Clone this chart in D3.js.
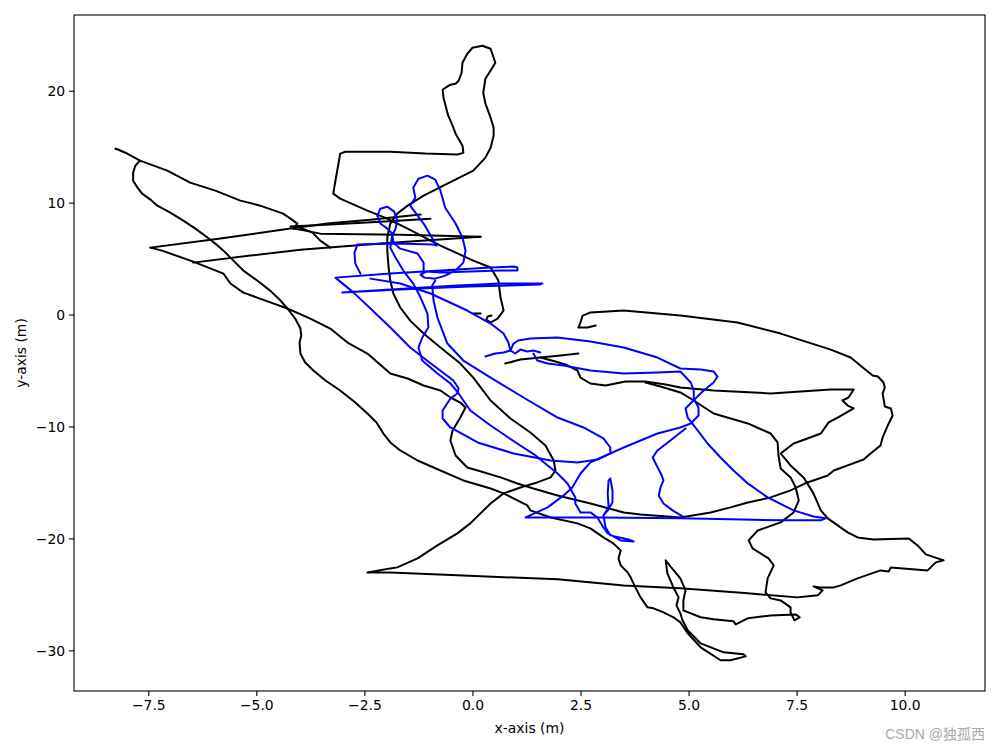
<!DOCTYPE html>
<html>
<head>
<meta charset="utf-8">
<script src="https://cdn.jsdelivr.net/npm/d3@7"></script>
<style>
  html, body { margin: 0; padding: 0; background: #fff; }
  svg { display: block; }
</style>
</head>
<body>
<svg id="chart" width="1000" height="750"></svg>
<script>
// ---------- data (metres) ----------
// ground-truth trajectory (black), split into strokes
const gtLoopTrack = [[1.57,-3.84],[1.92,-4.20],[2.15,-4.46],[2.43,-5.00],[2.50,-5.63],[2.73,-6.16],[3.08,-6.34],[3.54,-5.98],[4.00,-5.98],[4.47,-6.25],[4.81,-6.52],[5.58,-6.79],[6.90,-7.05],[7.59,-6.88],[8.29,-6.70],[8.82,-6.70],[8.70,-7.41],[8.56,-7.68],[8.68,-8.13],[8.82,-8.39],[8.45,-9.20],[8.24,-9.64],[8.06,-10.63],[7.75,-11.07],[7.43,-11.52],[7.13,-12.41],[7.36,-13.48],[7.66,-14.55],[7.89,-15.98],[8.06,-17.50],[8.22,-18.21],[8.45,-18.84],[8.68,-19.46],[8.91,-19.91],[9.28,-20.09],[10.09,-20.00],[10.30,-20.63],[10.49,-21.43],[10.90,-21.96],[10.72,-22.14],[10.53,-22.86],[9.68,-22.59],[9.63,-22.95],[9.44,-22.86],[8.91,-23.57],[8.52,-24.20],[8.36,-24.38],[8.06,-24.38],[7.89,-24.29],[8.10,-24.64],[7.99,-25.09],[7.52,-25.27],[6.37,-24.91],[4.81,-24.46],[3.50,-24.20],[1.97,-23.66],[-0.35,-23.30],[-1.90,-23.04],[-2.43,-23.04],[-1.90,-22.68],[-1.74,-22.59],[-1.27,-21.79],[-0.81,-20.63],[-0.35,-19.55],[-0.05,-18.66],[0.42,-16.88],[0.72,-15.98],[1.18,-15.36],[1.50,-15.00],[1.81,-14.55],[1.92,-13.93],[1.88,-13.04],[1.69,-11.70],[1.34,-10.54],[0.88,-9.29],[0.42,-7.68],[0.02,-5.63],[-0.28,-4.38],[-0.74,-2.95],[-1.13,-1.70],[-1.44,-0.54],[-1.67,0.63],[-1.83,1.88],[-1.90,3.04],[-1.94,4.20],[-1.97,5.71],[-1.97,6.88],[-1.90,8.13],[-1.74,9.02],[-1.50,9.73],[-1.13,10.63],[-0.58,11.70],[0.02,12.86],[0.30,14.02],[0.42,14.91],[0.49,15.98],[0.49,16.70],[0.42,17.59],[0.30,18.84],[0.25,19.82],[0.30,21.07],[0.46,22.05],[0.53,22.50],[0.42,23.75],[0.23,24.02],[0.00,23.84],[-0.12,23.30],[-0.23,22.50],[-0.25,21.61],[-0.32,20.89],[-0.39,20.63],[-0.51,20.54],[-0.62,20.27],[-0.69,20.09],[-0.67,19.38],[-0.56,17.77],[-0.46,16.88],[-0.39,16.16],[-0.23,15.09],[-0.21,14.46],[-0.35,14.29],[-1.09,14.38],[-1.90,14.55],[-2.94,14.55],[-3.06,14.38],[-3.10,13.48],[-3.17,11.96],[-3.22,10.80],[-3.06,10.36],[-2.43,9.29],[-1.97,8.57],[-1.50,7.68],[-0.74,6.16],[0.02,4.82],[0.42,4.20],[0.60,3.04],[0.65,1.52],[0.72,0.36],[0.58,-0.36],[0.42,-0.71],[0.32,-0.45],[0.35,-0.18],[0.44,-0.09]];
const gtShortTrack = [[0.76,-4.38],[1.11,-4.02],[1.57,-3.84],[2.04,-3.66],[2.45,-3.48]];
const gtOuterTrack = [[-7.45,5.98],[-7.18,5.71],[-6.46,4.73],[-5.76,3.66],[-5.60,2.77],[-5.30,1.96],[-4.79,1.25],[-4.28,0.54],[-3.75,-0.36],[-3.29,-1.25],[-2.89,-2.50],[-2.43,-3.48],[-1.90,-5.27],[-1.50,-5.71],[-1.13,-6.34],[-0.74,-6.79],[-0.51,-7.41],[-0.28,-7.86],[-0.16,-8.30],[-0.28,-9.20],[-0.46,-10.36],[-0.51,-11.25],[-0.39,-12.59],[-0.12,-13.66],[0.12,-13.93],[0.65,-14.55],[1.04,-15.09],[1.41,-15.54],[1.97,-16.16],[2.73,-16.88],[3.50,-17.68],[3.89,-17.86],[4.81,-18.13],[5.51,-17.68],[5.97,-17.23],[6.37,-16.79],[6.90,-16.34],[7.36,-15.71],[7.75,-15.00],[8.22,-14.38],[8.36,-13.93],[8.68,-13.48],[9.05,-12.95],[9.21,-12.41],[9.44,-11.70],[9.49,-10.98],[9.61,-9.91],[9.72,-9.02],[9.68,-8.39],[9.54,-8.21],[9.49,-7.05],[9.54,-6.52],[9.51,-6.07],[9.38,-5.54],[9.26,-5.45],[9.03,-4.73],[8.75,-3.84],[8.29,-3.13],[7.13,-1.70],[6.13,-0.71],[4.81,-0.09],[3.50,0.36],[2.73,0.18],[2.55,-0.09],[2.50,-0.71],[2.45,-1.16],[2.66,-1.16],[2.85,-0.98]];
const gtLeftTrack = [[-8.26,14.82],[-8.20,14.75],[-8.03,14.46],[-7.69,13.75],[-7.06,12.86],[-6.53,11.79],[-5.95,11.07],[-5.37,10.18],[-4.91,9.73],[-4.38,9.02],[-4.21,8.57],[-4.05,8.13],[-4.14,7.68]];
const gtJump1 = [[-7.45,5.98],[-5.83,6.79],[-4.21,7.68],[-3.36,8.13],[-2.36,8.48],[-1.20,8.93]];
const gtJump2 = [[-4.21,7.86],[-3.29,8.04],[-2.13,8.30],[-0.97,8.57]];
const gtJump3 = [[-4.14,7.68],[-3.87,7.50],[-3.52,7.23],[-1.67,7.14],[0.19,6.96]];
const gtJump4 = [[-6.46,4.64],[-5.14,5.27],[-3.98,5.80],[-2.13,6.34],[0.19,6.96]];
const gtJump5 = [[-4.05,7.86],[-3.70,7.32],[-3.52,6.61],[-3.29,5.98]];
const gtLowerTrack = [[-7.69,13.75],[-7.80,13.30],[-7.85,12.68],[-7.85,11.96],[-7.75,11.34],[-7.64,10.80],[-7.45,10.27],[-7.29,9.73],[-6.99,9.11],[-6.69,8.39],[-6.41,7.68],[-6.13,6.88],[-5.95,6.34],[-5.76,5.71],[-5.53,4.82],[-5.30,3.93],[-4.98,3.04],[-4.68,2.14],[-4.44,1.25],[-4.28,0.54],[-4.10,-0.36],[-3.98,-1.25],[-3.96,-1.88],[-4.00,-2.50],[-3.98,-3.48],[-3.87,-4.29],[-3.68,-5.00],[-3.40,-5.89],[-3.06,-6.79],[-2.71,-7.86],[-2.43,-8.84],[-2.22,-9.64],[-2.06,-10.63],[-1.90,-11.43],[-1.67,-12.14],[-1.27,-13.04],[-0.74,-13.93],[-0.21,-14.82],[0.42,-15.54],[0.72,-15.98],[1.04,-16.61],[1.27,-17.05],[1.34,-17.50],[1.81,-18.13],[2.43,-18.66],[2.73,-19.11],[3.03,-19.91],[3.26,-20.45],[3.43,-21.07],[3.38,-21.79],[3.43,-22.41],[3.59,-23.04],[3.66,-23.48],[3.77,-24.38],[3.89,-25.27],[4.05,-26.16],[4.19,-26.25],[4.42,-26.61],[4.65,-27.05],[4.81,-27.50],[4.98,-28.48],[5.28,-29.73],[5.74,-30.89],[5.97,-30.89],[6.32,-30.54],[6.27,-30.36],[5.81,-30.18],[5.28,-29.38],[4.98,-28.21],[4.86,-27.32],[4.81,-26.70],[4.72,-25.98],[4.77,-25.27],[4.65,-24.38],[4.51,-23.13],[4.47,-21.96],[4.58,-22.50],[4.81,-23.57],[4.93,-24.64],[4.88,-25.54],[4.88,-26.43],[5.28,-27.05],[5.58,-27.23],[6.04,-27.41],[6.09,-27.68],[6.37,-27.14],[6.90,-26.88],[7.48,-26.79],[7.57,-27.05],[7.45,-27.32],[7.36,-26.61],[7.36,-26.16],[7.13,-25.54],[6.90,-25.36],[6.78,-24.82],[6.83,-23.57],[6.97,-22.41],[6.85,-21.79],[6.48,-20.89],[6.39,-20.18],[6.60,-19.29],[7.13,-18.57],[7.43,-17.68],[7.55,-16.61],[7.48,-15.45],[7.36,-14.55],[7.13,-13.75],[7.08,-12.59],[7.06,-11.43],[6.90,-10.63],[6.37,-9.73],[5.58,-8.84],[5.12,-7.68],[4.81,-6.96],[4.35,-6.43],[4.00,-6.07]];
const gtDash = [[0.02,0.09],[0.19,0.09]];

// estimated trajectory (blue), split into strokes
const estUpperTrack = [[-2.59,3.66],[-2.71,4.55],[-2.73,5.54],[-2.66,6.25],[-1.78,6.34],[-0.90,6.25],[-0.83,6.16],[-0.90,6.61],[-1.13,8.13],[-1.44,9.73],[-1.32,10.45],[-1.37,11.34],[-1.25,12.14],[-1.04,12.41],[-0.86,12.05],[-0.74,11.07],[-0.63,9.55],[-0.39,8.13],[-0.23,6.88],[-0.16,5.71],[-0.21,4.64],[-0.39,3.93],[-0.63,3.48],[-0.86,3.21],[-1.11,3.30],[-1.20,3.57],[-1.07,3.84],[-0.74,3.75],[-0.05,3.84],[0.65,3.93],[1.04,3.93],[1.04,4.20],[0.95,4.29],[0.42,4.20],[-0.35,4.02],[-1.13,3.84],[-1.90,3.66],[-3.17,3.30],[-2.75,1.96],[-2.31,0.36],[-1.90,-1.16],[-1.44,-2.95],[-0.90,-4.55],[-0.44,-5.89],[-0.32,-6.61],[-0.35,-7.05],[-0.51,-7.50],[-0.69,-8.57],[-0.69,-9.29],[-0.51,-10.09],[0.12,-11.43],[0.95,-12.41],[1.81,-13.04],[2.43,-13.21],[2.89,-12.95],[3.19,-12.41],[3.19,-11.88],[3.03,-11.07],[2.57,-10.09],[1.97,-9.20],[1.18,-7.41],[0.42,-5.63],[-0.21,-4.11],[-0.58,-2.59],[-0.81,-0.27],[-0.90,1.25],[-0.93,2.59],[-0.86,3.04]];
const estMidTrack = [[-1.13,3.75],[-1.13,4.64],[-1.27,5.45],[-1.67,5.89],[-1.83,6.43],[-1.85,7.05],[-1.78,7.68],[-1.74,8.39],[-1.81,9.20],[-1.97,9.64],[-2.13,9.46],[-2.20,8.84],[-2.13,8.13],[-1.97,7.68],[-1.85,7.23],[-1.90,5.98],[-1.78,5.09],[-1.60,3.93],[-1.37,2.77],[-1.20,1.52],[-1.04,0.09],[-1.02,-1.16],[-1.16,-2.05],[-1.25,-2.95],[-1.16,-4.11],[-0.81,-5.27],[-0.51,-6.16],[-0.32,-7.05],[-0.05,-8.57],[0.42,-9.91],[1.00,-11.43],[1.46,-12.59],[1.74,-13.48],[1.97,-14.20],[2.20,-15.09],[2.38,-16.34],[2.38,-16.88],[2.50,-17.68],[2.73,-17.68],[2.89,-18.13],[3.03,-19.02],[3.13,-19.55],[3.43,-20.18],[3.73,-20.27],[3.61,-20.09],[3.19,-19.73],[3.08,-19.02],[3.03,-17.95],[3.13,-17.50],[3.24,-16.79],[3.24,-15.71],[3.19,-14.64],[3.15,-14.82],[3.13,-15.98],[3.15,-17.23],[3.03,-17.95]];
const estLinkTrack = [[-2.36,3.21],[-1.67,2.77],[-0.97,1.88],[-0.12,0.36],[0.42,-0.80],[0.72,-1.70],[0.83,-2.50],[0.88,-3.21]];
const estJumpTrack = [[1.62,2.77],[0.65,2.77],[-0.35,2.59],[-1.90,2.23],[-3.01,1.96],[-2.59,2.05],[-1.20,2.32],[-0.05,2.50],[1.57,2.68]];
const estKnotTrack = [[0.30,-3.75],[0.53,-3.48],[0.72,-3.39],[0.88,-3.21],[0.99,-3.48],[1.11,-3.13],[1.27,-3.30],[1.41,-3.21],[1.57,-3.39]];
const estRightTrack = [[0.88,-3.21],[0.95,-2.59],[1.06,-2.32],[1.34,-2.14],[1.97,-2.05],[2.73,-2.41],[3.50,-2.95],[4.28,-3.84],[4.81,-4.82],[5.28,-4.91],[5.58,-5.09],[5.67,-5.54],[5.58,-6.07],[5.35,-6.79],[5.16,-7.50],[4.93,-8.39],[4.98,-9.20],[5.12,-9.91],[5.44,-11.52],[5.74,-12.77],[6.04,-13.93],[6.37,-15.09],[6.83,-16.34],[7.43,-17.50],[7.89,-18.04],[8.17,-18.21],[8.06,-18.39],[7.13,-18.39],[5.97,-18.30],[4.81,-18.21],[2.96,-18.13],[1.23,-18.13],[1.74,-17.23],[2.11,-16.16],[2.31,-15.45],[2.50,-14.20],[2.73,-13.21],[3.50,-11.88],[4.28,-10.63],[4.81,-10.09],[5.05,-9.73],[5.23,-9.02],[5.23,-8.30],[5.12,-7.50],[5.12,-6.79],[5.05,-6.07],[4.81,-5.09],[4.28,-5.18],[3.50,-5.27],[2.73,-5.00],[2.11,-4.55],[1.74,-4.38],[1.50,-4.11],[1.41,-3.48]];
const estWavyTrack = [[4.93,-10.18],[4.58,-11.25],[4.28,-12.14],[4.17,-12.77],[4.26,-13.48],[4.38,-14.38],[4.42,-14.82],[4.35,-15.45],[4.31,-16.16],[4.42,-16.88],[4.63,-17.50],[4.86,-18.04]];

const gtTracks = [gtLoopTrack, gtShortTrack, gtOuterTrack, gtLeftTrack, gtJump1, gtJump2, gtJump3, gtJump4, gtJump5, gtLowerTrack, gtDash];
const estTracks = [estUpperTrack, estMidTrack, estLinkTrack, estJumpTrack, estKnotTrack, estRightTrack, estWavyTrack];

const xTicks = [-7.5, -5.0, -2.5, 0.0, 2.5, 5.0, 7.5, 10.0];
const yTicks = [-30, -20, -10, 0, 10, 20];
const xLabel = "x-axis (m)";
const yLabel = "y-axis (m)";
const watermark = "CSDN @独孤西";

// ---------- layout ----------
const plot = { left: 74, top: 15, right: 985, bottom: 691 };
const svg = d3.select("#chart");
const FONT = "DejaVu Sans, sans-serif";

const allPts = gtTracks.concat(estTracks).flat();
const xExt = d3.extent(allPts, d => d[0]);
const yExt = d3.extent(allPts, d => d[1]);
const xPad = (xExt[1] - xExt[0]) * 0.05;
const yPad = (yExt[1] - yExt[0]) * 0.05;

const x = d3.scaleLinear().domain([xExt[0] - xPad, xExt[1] + xPad]).range([plot.left, plot.right]);
const y = d3.scaleLinear().domain([yExt[0] - yPad, yExt[1] + yPad]).range([plot.bottom, plot.top]);

svg.append("defs").append("clipPath").attr("id", "clip")
  .append("rect").attr("x", plot.left).attr("y", plot.top)
  .attr("width", plot.right - plot.left).attr("height", plot.bottom - plot.top);

const line = d3.line().x(d => x(d[0])).y(d => y(d[1]));
const g = svg.append("g").attr("clip-path", "url(#clip)");

gtTracks.forEach(t => g.append("path").attr("d", line(t))
  .attr("fill", "none").attr("stroke", "#000").attr("stroke-width", 2)
  .attr("stroke-linejoin", "round").attr("stroke-linecap", "round"));
estTracks.forEach(t => g.append("path").attr("d", line(t))
  .attr("fill", "none").attr("stroke", "#0000ff").attr("stroke-width", 2)
  .attr("stroke-linejoin", "round").attr("stroke-linecap", "round"));

// axes
const fmtX = d => d3.format(".1f")(d).replace("-", "\u2212");
const fmtY = d => d3.format("d")(d).replace("-", "\u2212");

const xAxis = svg.append("g").attr("transform", `translate(0,${plot.bottom})`)
  .call(d3.axisBottom(x).tickValues(xTicks).tickFormat(fmtX).tickSize(4.9).tickPadding(4));
const yAxis = svg.append("g").attr("transform", `translate(${plot.left},0)`)
  .call(d3.axisLeft(y).tickValues(yTicks).tickFormat(fmtY).tickSize(4.9).tickPadding(4));
[xAxis, yAxis].forEach(a => {
  a.select(".domain").remove();
  a.selectAll("line").attr("stroke", "#000").attr("stroke-width", 1.1);
  a.selectAll("text").attr("font-family", FONT).attr("font-size", 13.9).attr("fill", "#000");
});
yAxis.selectAll("text").attr("dy", "0.35em");

svg.append("rect").attr("x", plot.left).attr("y", plot.top)
  .attr("width", plot.right - plot.left).attr("height", plot.bottom - plot.top)
  .attr("fill", "none").attr("stroke", "#000").attr("stroke-width", 1.1);

svg.append("text").attr("x", (plot.left + plot.right) / 2).attr("y", 733)
  .attr("text-anchor", "middle").attr("font-family", FONT).attr("font-size", 13.9)
  .text(xLabel);
svg.append("text").attr("transform", `translate(26,${(plot.top + plot.bottom) / 2}) rotate(-90)`)
  .attr("text-anchor", "middle").attr("font-family", FONT).attr("font-size", 13.9)
  .text(yLabel);

svg.append("text").attr("x", 985).attr("y", 739)
  .attr("text-anchor", "end").attr("font-family", "Liberation Sans, 'Noto Sans CJK SC', sans-serif")
  .attr("font-size", 14).attr("fill", "#a8a8a8")
  .text(watermark);
</script>
</body>
</html>
